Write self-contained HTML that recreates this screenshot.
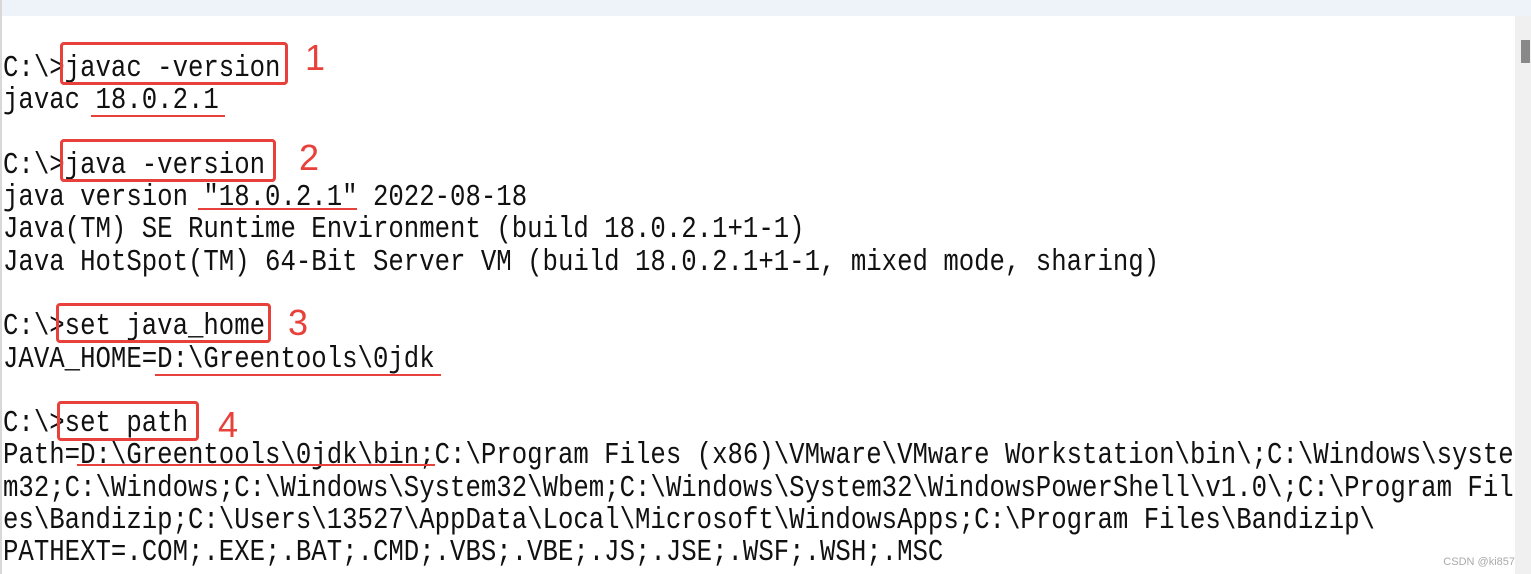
<!DOCTYPE html>
<html><head><meta charset="utf-8"><style>
body{margin:0;width:1531px;height:574px;background:#fff;position:relative;overflow:hidden}
.tb{position:absolute;left:0;top:0;width:1531px;height:16px;background:#eef2f9}
.lb{position:absolute;left:0;top:0;width:2px;height:574px;background:#d8d8d8}
.sb{position:absolute;left:1515px;top:16px;width:16px;height:558px;background:#f0f0f0}
.th{position:absolute;left:1521px;top:40px;width:9px;height:23px;background:#888}
.l{position:absolute;left:3px;height:32px;line-height:32px;font-family:"Liberation Mono",monospace;font-size:25.7px;color:#111;white-space:pre;transform:scaleY(1.2);transform-origin:0 50%}
.b{position:absolute;border:3px solid #e8403a;border-radius:4px;box-sizing:border-box}
.u{position:absolute;height:2px;background:#e8403a}
.n{position:absolute;font-family:"Liberation Sans",sans-serif;font-size:36px;color:#e8403a;line-height:36px}
.wm{position:absolute;right:16px;bottom:6px;font-family:"Liberation Sans",sans-serif;font-size:11px;color:#aaa}
</style></head><body>
<div class="tb"></div><div class="lb"></div><div class="sb"></div><div class="th"></div>
<div class="l" style="top:53px">C:\&gt;javac -version</div>
<div class="l" style="top:85px">javac 18.0.2.1</div>
<div class="l" style="top:150px">C:\&gt;java -version</div>
<div class="l" style="top:182px">java version "18.0.2.1" 2022-08-18</div>
<div class="l" style="top:214px">Java(TM) SE Runtime Environment (build 18.0.2.1+1-1)</div>
<div class="l" style="top:247px">Java HotSpot(TM) 64-Bit Server VM (build 18.0.2.1+1-1, mixed mode, sharing)</div>
<div class="l" style="top:311px">C:\&gt;set java_home</div>
<div class="l" style="top:344px">JAVA_HOME=D:\Greentools\0jdk</div>
<div class="l" style="top:408px">C:\&gt;set path</div>
<div class="l" style="top:440px">Path=D:\Greentools\0jdk\bin;C:\Program Files (x86)\VMware\VMware Workstation\bin\;C:\Windows\syste</div>
<div class="l" style="top:473px">m32;C:\Windows;C:\Windows\System32\Wbem;C:\Windows\System32\WindowsPowerShell\v1.0\;C:\Program Fil</div>
<div class="l" style="top:505px">es\Bandizip;C:\Users\13527\AppData\Local\Microsoft\WindowsApps;C:\Program Files\Bandizip\</div>
<div class="l" style="top:537px">PATHEXT=.COM;.EXE;.BAT;.CMD;.VBS;.VBE;.JS;.JSE;.WSF;.WSH;.MSC</div>
<div class="b" style="left:60px;top:42px;width:228px;height:43px"></div>
<div class="n" style="left:305px;top:40px">1</div>
<div class="u" style="left:91px;top:115px;width:134px"></div>
<div class="b" style="left:60px;top:139px;width:216px;height:43px"></div>
<div class="n" style="left:299px;top:140px">2</div>
<div class="u" style="left:198px;top:208px;width:159px"></div>
<div class="b" style="left:56px;top:303px;width:215px;height:40px"></div>
<div class="n" style="left:288px;top:305px">3</div>
<div class="u" style="left:155px;top:374px;width:286px"></div>
<div class="b" style="left:57px;top:401px;width:142px;height:40px"></div>
<div class="n" style="left:218px;top:407px">4</div>
<div class="u" style="left:77px;top:464px;width:358px"></div>
<div class="wm">CSDN @ki857</div>
</body></html>
